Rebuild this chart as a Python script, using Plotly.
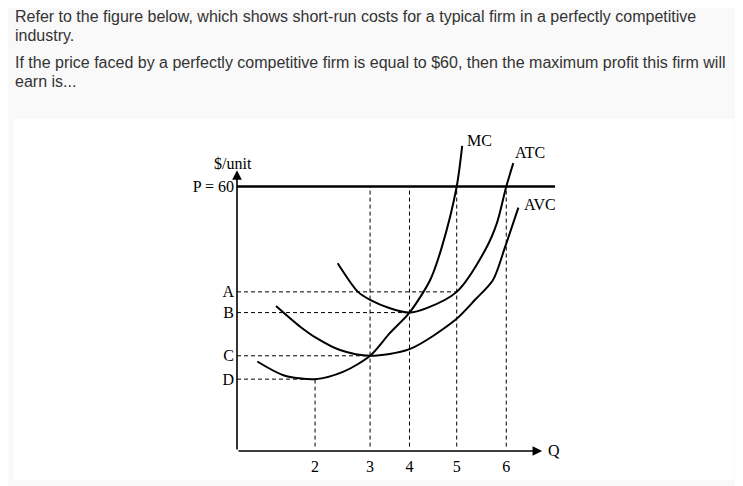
import plotly.graph_objects as go

# question text above the figure
question_lines = [
    "Refer to the figure below, which shows short-run costs for a typical firm in a perfectly competitive",
    "industry.",
    "If the price faced by a perfectly competitive firm is equal to $60, then the maximum profit this firm will",
    "earn is...",
]
question_ypx = [17, 35, 63, 81]

# Q axis: labels and where they sit along the (not to scale) axis
q_labels = ["2", "3", "4", "5", "6"]
q_pos = [2.0, 3.41, 4.42, 5.63, 6.90]
q_top = [16.3, 60, 60, 60, 60]   # how high each dashed vertical goes

# $/unit levels
level_labels = ["A", "B", "C", "D"]
level_vals = [36.1, 31.4, 21.6, 16.3]
level_ends = [5.63, 4.42, 3.41, 2.0]
price = 60
price_end = 8.15

# cost curves
mc_x = [0.52, 1.19, 2.0, 2.73, 3.41, 3.92, 4.42, 4.95, 5.25, 5.63, 5.77]
mc_y = [20.3, 17.2, 16.3, 18.0, 21.6, 26.8, 31.4, 38.8, 46.3, 60, 69.2]

atc_x = [2.58, 3.10, 3.41, 3.92, 4.42, 4.86, 5.63, 6.36, 6.66, 6.90, 7.08]
atc_y = [42.6, 36.1, 34.3, 32.4, 31.4, 32.4, 36.1, 45.6, 51.7, 60, 65.3]

avc_x = [1.00, 1.62, 2.04, 2.64, 3.41, 4.42, 5.59, 6.10, 6.56, 6.87, 7.21]
avc_y = [32.9, 28.2, 25.6, 22.9, 21.6, 23.1, 29.7, 34.3, 38.8, 46.3, 55.2]

W, H = 743, 486
OFF = 8  # the page body adds an 8px margin around the plot div
serif = dict(family="Liberation Serif", size=16, color="black")
dash_line = dict(color="black", width=1, dash="4px,3px")

fig = go.Figure()

# dashed guides
for lv, xe in zip(level_vals, level_ends):
    fig.add_trace(go.Scatter(x=[0, xe], y=[lv, lv], mode="lines",
                             line=dash_line, hoverinfo="skip"))
for qp, qt in zip(q_pos, q_top):
    fig.add_trace(go.Scatter(x=[qp, qp], y=[1.0, qt], mode="lines",
                             line=dash_line, hoverinfo="skip"))

# price line
fig.add_trace(go.Scatter(x=[0, price_end], y=[price, price], mode="lines",
                         line=dict(color="black", width=2.6)))

# curves
for cx, cy in [(mc_x, mc_y), (atc_x, atc_y), (avc_x, avc_y)]:
    fig.add_trace(go.Scatter(x=cx, y=cy, mode="lines",
                             line=dict(color="black", width=2, shape="spline",
                                       smoothing=0.8)))

annotations = []
# axes with arrowheads
annotations.append(dict(x=7.82, y=0, ax=0, ay=0, xref="x", yref="y",
                        axref="x", ayref="y", text="", showarrow=True,
                        arrowhead=2, arrowsize=1.2, arrowwidth=1.6,
                        arrowcolor="black"))
annotations.append(dict(x=0, y=63.7, ax=0, ay=0, xref="x", yref="y",
                        axref="x", ayref="y", text="", showarrow=True,
                        arrowhead=2, arrowsize=1.2, arrowwidth=1.6,
                        arrowcolor="black"))
# curve and axis names
for txt, tx, ty, anchor, shift in [("MC", 5.85, 70.4, "left", 0),
                                   ("ATC", 7.08, 67.8, "left", 0),
                                   ("AVC", 7.3, 56.0, "left", 0),
                                   ("$/unit", 0, 65.3, "center", -4),
                                   ("Q", 8.13, 0.2, "center", 0)]:
    annotations.append(dict(x=tx, y=ty, xref="x", yref="y", text=txt,
                            showarrow=False, xanchor=anchor, yanchor="middle",
                            xshift=shift, font=serif))
# question text
for line, ypx in zip(question_lines, question_ypx):
    annotations.append(dict(x=(13 - OFF) / W, y=1 - (ypx - OFF) / H,
                            xref="paper", yref="paper",
                            text=line, showarrow=False, xanchor="left",
                            yanchor="middle",
                            font=dict(family="Liberation Sans", size=16,
                                      color="#333333")))

fig.update_layout(
    width=W, height=H,
    margin=dict(l=0, r=0, t=0, b=0, autoexpand=False),
    paper_bgcolor="#f9f9f9",
    plot_bgcolor="rgba(0,0,0,0)",
    showlegend=False,
    annotations=annotations,
    shapes=[dict(type="rect", xref="paper", yref="paper",
                 x0=(14 - OFF) / W, x1=(734 - OFF) / W,
                 y0=1 - (480 - OFF) / H, y1=1 - (119 - OFF) / H,
                 fillcolor="white", line=dict(width=0), layer="below")],
    xaxis=dict(domain=[(237 - OFF) / W, (557 - OFF) / W], range=[0, 8.2],
               automargin=False,
               showgrid=False, zeroline=False, showline=False,
               tickvals=q_pos, ticktext=q_labels, ticks="",
               ticklabelstandoff=4, tickfont=serif, fixedrange=True),
    yaxis=dict(domain=[(H - 451 + OFF) / H, (H - 451 + OFF + 75 * 4.408) / H],
               range=[0, 75], automargin=False,
               showgrid=False, zeroline=False, showline=False,
               tickvals=level_vals + [price],
               ticktext=level_labels + ["P = 60"], ticks="",
               ticklabelstandoff=2, tickfont=serif, fixedrange=True),
)

fig.write_html("out.html")
